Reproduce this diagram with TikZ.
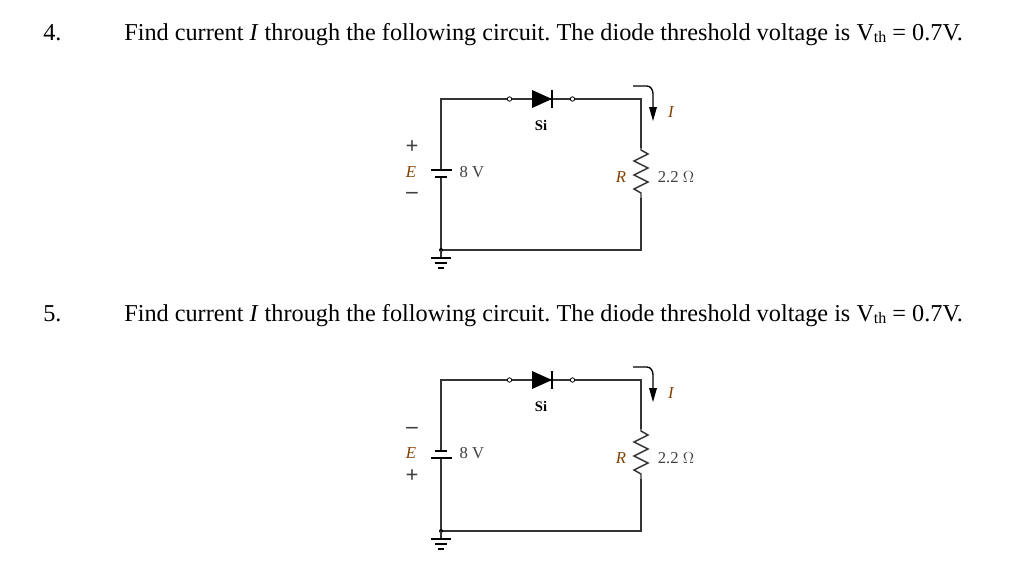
\documentclass[tikz,border=0pt]{standalone}
\usepackage{fontspec}
\setmainfont{Liberation Serif}
\usetikzlibrary{arrows.meta}
\tikzset{wire/.style={line width=0.9pt,draw=black!80},
 lbl/.style={font=\fontsize{12.5}{12.5}\selectfont,text=black!75,inner sep=0pt},
 sym/.style={font=\fontsize{12.5}{12.5}\selectfont\itshape,text=orange!50!black,inner sep=0pt},
 pm/.style={font=\fontsize{17}{17}\selectfont\bfseries,text=black!75,inner sep=0pt},
 qtext/.style={font=\fontsize{18.2}{18.2}\selectfont,anchor=base west,inner sep=0pt}}
\newcommand{\thsub}{\raisebox{-0.25ex}{\fontsize{12}{12}\selectfont th}}
\newcommand{\mycircuit}[2]{%
\begin{scope}[yshift=#1]
 \coordinate (tl) at (441,99); \coordinate (tr) at (641,99);
 \coordinate (bl) at (441,250); \coordinate (br) at (641,250);
 \coordinate (bt) at (441,170); \coordinate (bb) at (441,177);
 \coordinate (rt) at (641,148); \coordinate (rb) at (641,198);
 \draw[wire] (bt) -- (tl) -- (508,99);
 \draw[wire] (574,99) -- (tr) -- (rt);
 \draw[wire] (bb) -- (bl) -- (br) -- (rb);
 \draw[wire] (511,99) -- (552,99) (552,99) -- (571,99);
 \draw[line width=0.6pt] (509.5,99) circle (2.2) (572.5,99) circle (2.2);
 \fill (532,90) -- (552,99) -- (532,108) -- cycle;
 \draw[line width=1.5pt] (552,90) -- (552,108);
 \node[font=\fontsize{11}{11}\selectfont\bfseries,inner sep=0pt] (si) at (541,125) {Si};
 #2
 \draw[wire,line width=1.1pt] (rt) -- (641,150) -- (648,154) -- (634,161) -- (648,168) -- (634,175) -- (648,182) -- (634,189) -- (641,193) -- (rb);
 \node[sym] (R) at (621,177) {R};
 \node[lbl] (rv) at (676,177) {2.2 $\Omega$};
 \draw[line width=1pt] (633,86) -- (647,86) to[out=0,in=90] (653,94) -- (653,108);
 \fill (649,107) -- (657,107) -- (653,121) -- cycle;
 \node[sym] (I) at (671,112) {I};
 \fill (bl) circle (2);
 \draw[wire] (bl) -- (441,258);
 \draw[line width=1.2pt] (431,258) -- (451,258) (435,263) -- (447,263) (438,268) -- (444,268);
 \node[sym] (E) at (411,172) {E};
 \node[lbl] (v) at (472,172) {8 V};
\end{scope}}
\begin{document}
\frenchspacing
\begin{tikzpicture}[x=0.75pt,y=-0.75pt]
\fill[white] (0,0) rectangle (1024,575);
\useasboundingbox (0,0) rectangle (1024,575);
\node[qtext] (n4) at (43,40) {4.};
\node[qtext] (q4) at (124,40) {Find current \textit{I} through the following circuit. The diode threshold voltage is V\thsub{} = 0.7V.};
\node[qtext] (n5) at (43,321) {5.};
\node[qtext] (q5) at (124,321) {Find current \textit{I} through the following circuit. The diode threshold voltage is V\thsub{} = 0.7V.};
\mycircuit{0}{%
 \draw[line width=1pt] (431,170) -- (452,170);
 \draw[line width=2pt] (435,177) -- (447,177);
 \node[pm] (p) at (412,147) {+};
 \node[pm] (m) at (412,195) {--};}
\mycircuit{-281*0.75pt}{%
 \draw[line width=2pt] (435,170) -- (447,170);
 \draw[line width=1pt] (431,177) -- (452,177);
 \node[pm] (m) at (412,149) {--};
 \node[pm] (p) at (412,195) {+};}
\end{tikzpicture}
\end{document}
